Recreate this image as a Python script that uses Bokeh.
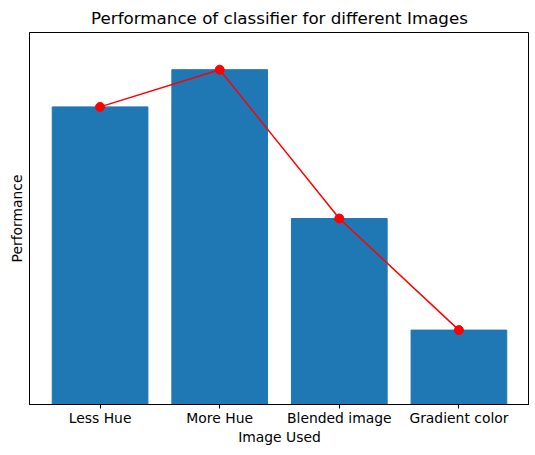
from bokeh.plotting import figure
from bokeh.models import Range1d, FixedTicker
from bokeh.embed import file_html
from bokeh.resources import INLINE

# Data (no y ticks shown, so values are relative)
images = ['Less Hue', 'More Hue', 'Blended image', 'Gradient color']
performance = [0.80, 0.90, 0.50, 0.20]
xs = list(range(len(images)))

p = figure(width=529, height=447, output_backend="svg", toolbar_location=None,
           x_range=Range1d(-0.59, 3.59), y_range=Range1d(0, 1.0),
           min_border_left=29, min_border_right=0, min_border_top=24, min_border_bottom=40,
           title="Performance of classifier for different Images")

# Bars and the red line over them
p.vbar(x=xs, top=performance, width=0.8, color='#1f77b4')
p.line(xs, performance, line_color='red', line_width=1.5)
p.scatter(xs, performance, size=9, color='red')

# Title
p.title.align = 'center'
p.title.text_font = 'DejaVu Sans'
p.title.text_font_size = '16.7px'
p.title.text_font_style = 'normal'
p.title.text_color = 'black'

# x axis with category names
p.xaxis.ticker = FixedTicker(ticks=xs)
p.xaxis.major_label_overrides = {i: name for i, name in enumerate(images)}
p.xaxis.axis_label = 'Image Used'
p.xaxis.minor_tick_line_color = None
p.xaxis.major_tick_in = 0
p.xaxis.major_tick_out = 4
p.xaxis.major_label_standoff = 1
p.xaxis.axis_label_standoff = 0

# y axis without ticks
p.yaxis.ticker = FixedTicker(ticks=[])
p.yaxis.axis_label = 'Performance'
p.yaxis.minor_tick_line_color = None

for ax in [p.xaxis[0], p.yaxis[0]]:
    ax.axis_label_text_font = 'DejaVu Sans'
    ax.axis_label_text_font_size = '13.9px'
    ax.axis_label_text_font_style = 'normal'
    ax.axis_label_text_color = 'black'
    ax.major_label_text_font = 'DejaVu Sans'
    ax.major_label_text_font_size = '13.9px'
    ax.major_label_text_color = 'black'
    ax.axis_line_color = 'black'
    ax.major_tick_line_color = 'black'

p.xgrid.grid_line_color = None
p.ygrid.grid_line_color = None
p.outline_line_color = 'black'
p.outline_line_alpha = 1.0

open("out.html", "w").write(file_html(p, INLINE))
